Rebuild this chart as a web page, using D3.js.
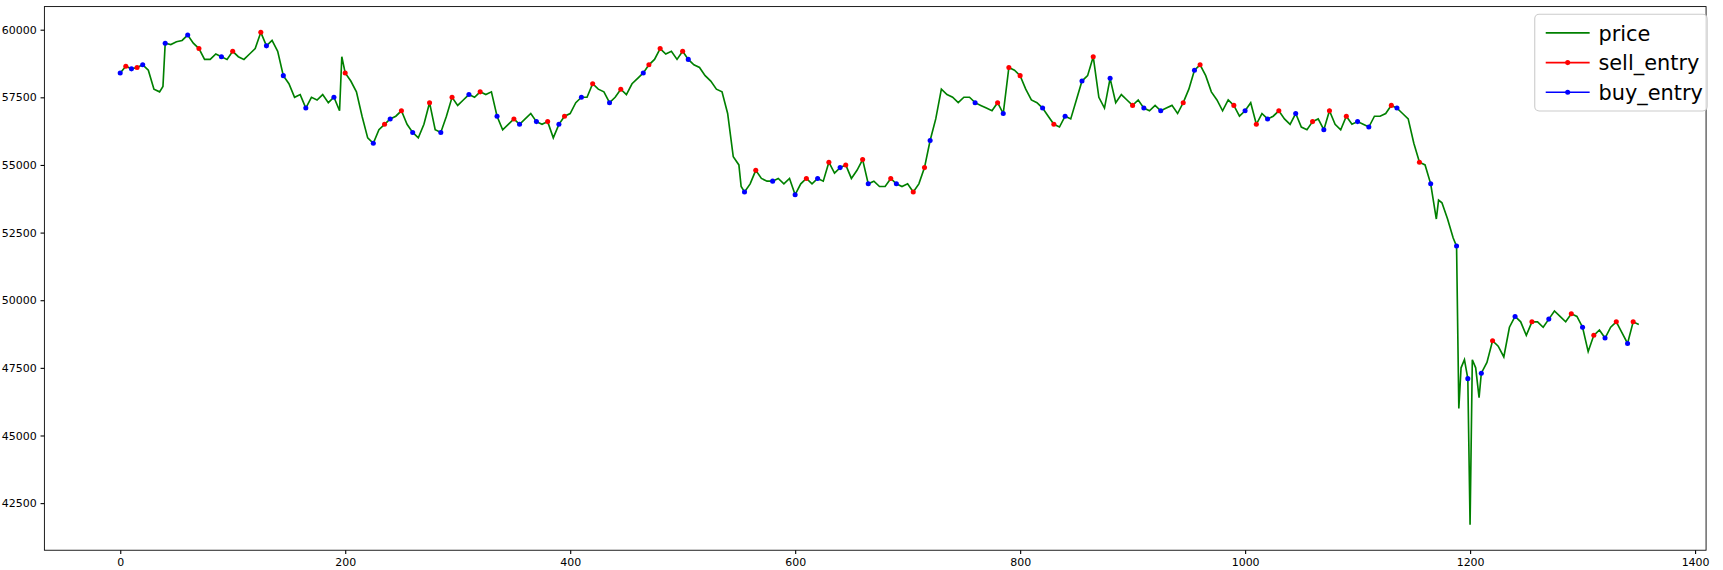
<!DOCTYPE html>
<html><head><meta charset="utf-8">
<script src="https://cdn.jsdelivr.net/npm/d3@7"></script>
<style>body{margin:0;background:#fff;font-family:"DejaVu Sans",sans-serif}svg{display:block}</style>
</head><body><svg id="c" width="1723" height="570" viewBox="0 0 1568 519"></svg>
<script>
// price samples (x index, value)
const xs = [0,5,10,15,20,25,30,35,38,40,45,50,55,60,65,70,75,80,85,90,95,100,105,110,115,120,125,130,135,140,145,150,155,160,165,170,175,180,185,190,195,197,200,205,210,215,220,225,230,235,240,245,250,255,260,265,270,275,280,285,290,295,300,305,310,315,320,325,330,335,340,345,350,355,360,365,370,375,380,385,390,395,400,405,410,415,420,425,430,435,440,445,450,455,460,465,470,475,480,485,490,495,500,505,510,515,520,525,530,535,540,545,550,552,555,560,565,570,575,580,585,590,595,600,605,610,615,620,625,630,635,640,645,650,655,660,665,670,675,680,685,690,695,700,705,710,715,720,725,730,735,740,745,750,755,760,765,770,775,780,785,790,795,800,805,810,815,820,825,830,835,840,845,850,855,860,865,870,875,880,885,890,895,900,905,910,915,920,925,930,935,940,945,950,955,960,965,970,975,980,985,990,995,1000,1005,1010,1015,1020,1025,1030,1035,1040,1045,1050,1055,1060,1065,1070,1075,1080,1085,1090,1095,1100,1105,1110,1115,1120,1125,1130,1135,1140,1145,1150,1155,1160,1165,1170,1172,1175,1180,1185,1188,1190,1192,1195,1198,1200,1202,1205,1208,1210,1215,1220,1225,1230,1235,1240,1245,1250,1255,1260,1265,1270,1275,1280,1285,1290,1295,1300,1305,1310,1315,1320,1325,1330,1335,1340,1345,1350];
const price = [58400,58650,58550,58600,58700,58500,57800,57700,57900,59500,59450,59550,59600,59800,59500,59300,58900,58900,59100,59000,58900,59200,59000,58900,59100,59300,59900,59400,59600,59200,58300,58000,57500,57600,57100,57500,57400,57600,57300,57500,57000,59000,58400,58100,57700,56800,56000,55800,56300,56500,56700,56800,57000,56500,56200,56000,56500,57300,56300,56200,56800,57500,57200,57400,57600,57500,57700,57600,57700,56800,56300,56500,56700,56500,56700,56900,56600,56500,56600,56000,56500,56800,56900,57300,57500,57500,58000,57800,57700,57300,57500,57800,57600,58000,58200,58400,58700,58900,59300,59100,59200,58900,59200,58900,58700,58600,58300,58100,57800,57700,56900,55300,55000,54200,54000,54300,54800,54500,54400,54400,54500,54300,54500,53900,54300,54500,54300,54500,54400,55100,54700,54900,55000,54500,54800,55200,54300,54400,54200,54200,54500,54300,54200,54300,54000,54300,54900,55900,56700,57800,57600,57500,57300,57500,57500,57300,57200,57100,57000,57300,56900,58600,58500,58300,57800,57400,57300,57100,56800,56500,56400,56800,56700,57400,58100,58300,59000,57500,57100,58200,57300,57600,57400,57200,57400,57100,57000,57200,57000,57100,57200,56900,57300,57800,58500,58700,58300,57700,57400,57000,57400,57200,56800,57000,57300,56500,56900,56700,56800,57000,56700,56500,56900,56400,56300,56600,56700,56300,57000,56500,56300,56800,56500,56600,56500,56400,56800,56800,56900,57200,57100,56900,56700,55800,55100,55000,54300,53000,53700,53600,53000,52300,52000,46000,47500,47800,47100,41700,47800,47500,46400,47300,47700,48500,48300,47900,49000,49400,49200,48700,49200,49200,49000,49300,49600,49400,49200,49500,49400,49000,48100,48700,48900,48600,49000,49200,48800,48400,49200,49100];
const sellX = [5,15,70,100,125,200,235,250,275,295,320,350,380,395,420,445,470,480,500,565,610,630,645,660,685,705,715,780,790,800,830,865,900,945,960,990,1010,1030,1060,1075,1090,1130,1155,1220,1255,1290,1310,1330,1345];
const buyX = [0,10,20,40,60,90,130,145,165,190,225,240,260,285,310,335,355,370,390,410,435,465,505,555,580,600,620,640,665,690,720,760,785,820,840,855,880,910,925,955,1000,1020,1045,1070,1100,1110,1135,1165,1188,1198,1210,1240,1270,1300,1320,1340];
const xTicks = [0,200,400,600,800,1000,1200,1400];
const yTicks = [42500,45000,47500,50000,52500,55000,57500,60000];

const svg = d3.select("#c");
const L = 40, R = 1553, T = 6, B = 501;
const x = d3.scaleLinear().domain([-67.4, 1409.8]).range([L, R]);
const y = d3.scaleLinear().domain([40757, 60852]).range([B, T]);

const data = xs.map((v, i) => ({x: v, p: price[i]}));
const lookup = new Map(data.map(d => [d.x, d.p]));

svg.append("path").datum(data)
  .attr("fill", "none").attr("stroke", "#008000").attr("stroke-width", 1.5)
  .attr("d", d3.line().x(d => x(d.x)).y(d => y(d.p)));

svg.selectAll(".s").data(sellX).join("circle")
  .attr("cx", d => x(d)).attr("cy", d => y(lookup.get(d))).attr("r", 2.3).attr("fill", "red");
svg.selectAll(".b").data(buyX).join("circle")
  .attr("cx", d => x(d)).attr("cy", d => y(lookup.get(d))).attr("r", 2.3).attr("fill", "blue");

const fmt = d3.format("d");
const xa = svg.append("g").attr("transform", `translate(0,${B})`)
  .call(d3.axisBottom(x).tickValues(xTicks).tickFormat(fmt).tickSize(3.5).tickPadding(3.5));
const ya = svg.append("g").attr("transform", `translate(${L},0)`)
  .call(d3.axisLeft(y).tickValues(yTicks).tickFormat(fmt).tickSize(3.5).tickPadding(3.5));
[xa, ya].forEach(a => { a.select(".domain").remove(); a.selectAll("text").attr("font-size", 10).attr("fill", "#000").attr("font-family", "DejaVu Sans"); a.selectAll("line").attr("stroke", "#000"); });

svg.append("rect").attr("x", L).attr("y", T).attr("width", R - L).attr("height", B - T)
  .attr("fill", "none").attr("stroke", "#000").attr("stroke-width", 0.8);

// legend
const lg = svg.append("g").attr("transform", "translate(1397,13)");
lg.append("rect").attr("width", 157).attr("height", 88).attr("rx", 4)
  .attr("fill", "#fff").attr("fill-opacity", 0.8).attr("stroke", "#ccc");
const items = [["price", "#008000", false], ["sell_entry", "red", true], ["buy_entry", "blue", true]];
items.forEach(([t, c, m], i) => {
  const g = lg.append("g").attr("transform", `translate(10,${17 + i * 27})`);
  g.append("line").attr("x1", 0).attr("x2", 40).attr("stroke", c).attr("stroke-width", 1.5);
  if (m) g.append("circle").attr("cx", 20).attr("r", 2.3).attr("fill", c);
  g.append("text").attr("x", 48).attr("y", 7).attr("font-size", 19).text(t);
});
</script></body></html>
